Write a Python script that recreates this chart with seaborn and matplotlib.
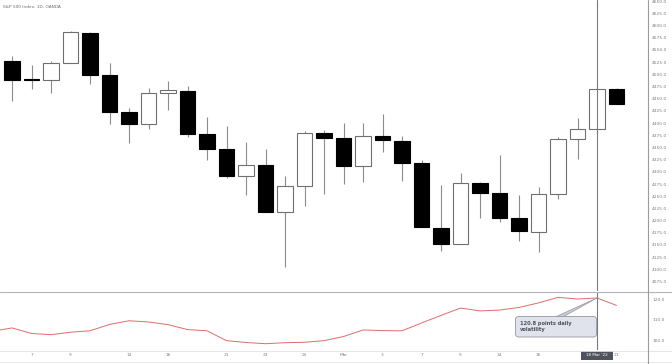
import numpy as np
import pandas as pd
import matplotlib
matplotlib.use("Agg")
import matplotlib.pyplot as plt
import matplotlib.transforms as mtransforms
from matplotlib.patches import FancyBboxPatch, Polygon
import seaborn as sns

# ---- data ----
dates = ["Feb 4", "Feb 7", "Feb 8", "Feb 9", "Feb 10", "Feb 11", "Feb 14", "Feb 15",
         "Feb 16", "Feb 17", "Feb 18", "Feb 21", "Feb 22", "Feb 23", "Feb 24", "Feb 25",
         "Feb 28", "Mar 1", "Mar 2", "Mar 3", "Mar 4", "Mar 7", "Mar 8", "Mar 9",
         "Mar 10", "Mar 11", "Mar 14", "Mar 15", "Mar 16", "Mar 17", "Mar 18", "Mar 21"]
opens = [4528, 4491, 4489, 4524, 4586, 4500, 4424, 4399, 4462, 4467, 4378, 4348, 4293, 4314,
         4218, 4272, 4381, 4371, 4312, 4374, 4365, 4319, 4186, 4153, 4278, 4257, 4206, 4178,
         4255, 4368, 4389, 4470]
highs = [4539, 4520, 4529, 4590, 4588, 4525, 4431, 4472, 4487, 4477, 4414, 4394, 4362, 4348,
         4292, 4385, 4387, 4401, 4401, 4419, 4374, 4325, 4275, 4298, 4281, 4335, 4253, 4269,
         4373, 4412, 4478, 4472]
lows = [4446, 4470, 4463, 4524, 4481, 4399, 4360, 4388, 4428, 4372, 4325, 4289, 4253, 4218,
        4106, 4231, 4255, 4277, 4281, 4342, 4283, 4188, 4139, 4153, 4207, 4198, 4160, 4137,
        4245, 4327, 4380, 4440]
closes = [4489, 4490, 4525, 4587, 4500, 4424, 4399, 4462, 4469, 4378, 4348, 4292, 4314, 4218,
          4272, 4381, 4371, 4312, 4374, 4366, 4320, 4188, 4153, 4278, 4257, 4206, 4180, 4256,
          4368, 4389, 4470, 4441]
# daily volatility line (first value is the day before the first visible candle)
vol_days = list(range(-1, 32))
vol_values = [104.6, 106.2, 103.5, 102.9, 104.1, 104.8, 107.9, 109.7, 109.1, 107.8, 105.4,
              104.8, 100.0, 99.1, 98.5, 99.0, 99.2, 100.0, 102.0, 105.2, 104.9, 104.8, 108.6,
              112.3, 115.9, 114.5, 114.9, 116.2, 118.4, 121.1, 120.3, 120.8, 117.2]
xtick_pos = [1, 3, 6, 8, 11, 13, 15, 17, 19, 21, 23, 25, 27, 31]
xtick_labels = ["7", "9", "14", "16", "21", "23", "25", "Mar", "3", "7", "9", "14", "16", "21"]
price_ticks = list(range(4075, 4651, 25))
vol_ticks = [100, 110, 120]
title = "S&P 500 Index, 1D, OANDA"
callout = "120.8 points daily\nvolatility"
cross_idx = 30
cross_label = "18 Mar '22"

sns.set_style("white")
plt.rcParams["font.family"] = ["DejaVu Sans"]

W, H = 672, 364
fig = plt.figure(figsize=(W / 100, H / 100), dpi=100)

def fy(py):
    return 1 - py / H

right = 647 / W
ax = fig.add_axes([0, fy(291), right, fy(0) - fy(291)])
axv = fig.add_axes([0, fy(350), right, fy(292) - fy(350)])

x = np.arange(len(dates))
o = np.array(opens); c = np.array(closes); h = np.array(highs); l = np.array(lows)
up = c >= o
wick_col = "#8c8c8c"
ax.vlines(x, l, h, color=wick_col, lw=0.8, zorder=1)
body_bottom = np.minimum(o, c)
body_h = np.maximum(np.abs(c - o), 1.0)
ax.bar(x[up], body_h[up], bottom=body_bottom[up], width=0.77, color="white",
       edgecolor="#6f6f6f", linewidth=0.8, zorder=2)
ax.bar(x[~up], body_h[~up], bottom=body_bottom[~up], width=0.77, color="black",
       edgecolor="black", linewidth=0.8, zorder=2)

xmin = -12 / 19.5
xmax = (647 - 12) / 19.5
ax.set_xlim(xmin, xmax)
ax.set_ylim(4475 - 204 * 2.051, 4475 + 87 * 2.051)

# volatility pane
dfv = pd.DataFrame({"day": vol_days, "vol": vol_values})
sns.lineplot(data=dfv, x="day", y="vol", ax=axv, color="#e06c6c", lw=0.7, legend=False)
axv.set_xlim(xmin, xmax)
axv.set_ylim(120.8 - 52 / 2.05, 120.8 + 6 / 2.05)

for a in (ax, axv):
    a.set_xticks([]); a.set_yticks([])
    a.set_xlabel(""); a.set_ylabel("")
    for s in a.spines.values():
        s.set_visible(False)
    a.axvline(cross_idx, color="#787b86", lw=0.8, zorder=5)

# price scale labels
lab_col = "#7d808a"
for p in price_ticks:
    ax.text(1.008, p, f"{p:.1f}", transform=ax.get_yaxis_transform(),
            fontsize=3.2, color=lab_col, va="center", ha="left", clip_on=False)
for v in vol_ticks:
    axv.text(1.008, v, f"{v:.1f}", transform=axv.get_yaxis_transform(),
             fontsize=3.2, color=lab_col, va="center", ha="left", clip_on=False)

# x labels
xt = mtransforms.blended_transform_factory(axv.transData, fig.transFigure)
for pos, lab in zip(xtick_pos, xtick_labels):
    axv.text(pos, fy(355.5), lab, transform=xt,
             fontsize=3.1, color=lab_col, ha="center", va="center")

# overlay for frame lines / callout in pixel coordinates
ov = fig.add_axes([0, 0, 1, 1], facecolor="none")
ov.set_xlim(0, W); ov.set_ylim(H, 0); ov.axis("off")
ov.plot([0, W], [291.5, 291.5], color="#b2b5be", lw=0.8)
ov.plot([0, W], [350.5, 350.5], color="#e0e3eb", lw=0.6)
ov.plot([0, W], [361.5, 361.5], color="#e0e3eb", lw=0.6)
ov.plot([647.5, 647.5], [0, H], color="#9a9ca3", lw=0.8)

# crosshair date label
cx = 12 + 19.5 * cross_idx
ov.add_patch(FancyBboxPatch((cx - 16, 351), 32, 9, boxstyle="square,pad=0",
                            fc="#50535e", ec="none"))
ov.text(cx, 355.5, cross_label, fontsize=3.0, color="white", ha="center", va="center")

# callout
ov.add_patch(Polygon([[553, 318], [561, 318], [cx, 298]], closed=True,
                     fc="#c9ccd4", ec="#9598a1", lw=0.5, zorder=6))
ov.add_patch(FancyBboxPatch((515.5, 316.5), 81, 20.5, boxstyle="round,pad=0,rounding_size=3",
                            fc="#e0e3eb", ec="#9598a1", lw=0.6, zorder=7))
ov.text(519.5, 326.5, callout, fontsize=3.7, fontweight="bold", color="#50535e",
        ha="left", va="center", linespacing=1.1, zorder=8)

# title
ov.text(3, 7, title, fontsize=3.1, color="#6a6d78", ha="left", va="center")

fig.savefig("out.png", dpi=100)
